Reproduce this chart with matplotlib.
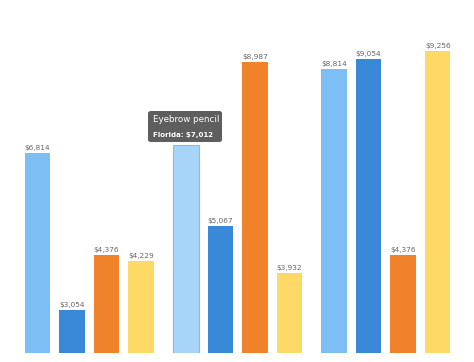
import numpy as np
import matplotlib.pyplot as plt
from matplotlib.patches import FancyBboxPatch

# product groups (x axis, hidden) and series (states)
products = ['Lipstick', 'Eyebrow pencil', 'Nail polish']
series_names = ['Florida', 'Texas', 'New York', 'California']
florida = [6814, 7012, 8814]
texas = [3054, 5067, 9054]
new_york = [4376, 8987, 4376]
california = [4229, 3932, 9256]
colors = ['#7dbff5', '#3a88d8', '#ef822b', '#fed966']
hover_group = 1  # tooltip on Florida / Eyebrow pencil

values = [florida, texas, new_york, california]

fig = plt.figure(figsize=(4.74, 3.62), dpi=100)
ax = fig.add_axes([0, 9 / 362, 1, 353 / 362])

x = np.arange(len(products))
step = 0.233
width = 0.172
for i, (vals, c) in enumerate(zip(values, colors)):
    pos = x + (i - 1.5) * step
    for j, (p, v) in enumerate(zip(pos, vals)):
        if i == 0 and j == hover_group:
            ax.bar(p, v - 2023, width, bottom=2023, color='#a7d4f9',
                   edgecolor='#7dbff5', linewidth=0.8)
            continue
        ax.bar(p, v - 2023, width, bottom=2023, color=c, linewidth=0)
        ax.text(p, v + 50, '${:,}'.format(v), ha='center', va='bottom',
                fontsize=5.3, color='#666666')

ax.set_xlim(-0.602, 2.594)
ax.set_ylim(2023, 10476)
ax.axis('off')

# tooltip
px = x[hover_group] - 1.5 * step
tip = FancyBboxPatch((148 / 474, 1 - 142 / 362), 74 / 474, 31 / 362,
                     boxstyle='round,pad=0,rounding_size=0.006',
                     transform=fig.transFigure, facecolor='#555555',
                     edgecolor='none', alpha=0.95)
fig.patches.append(tip)
fig.text(153 / 474, 1 - 119 / 362, products[hover_group], color='white',
         fontsize=6.3, va='center', ha='left')
fig.text(153 / 474, 1 - 135 / 362,
         '{}: ${:,}'.format(series_names[0], florida[hover_group]),
         color='white', fontsize=5, fontweight='bold', va='center', ha='left')

fig.savefig('out.png', dpi=100)
